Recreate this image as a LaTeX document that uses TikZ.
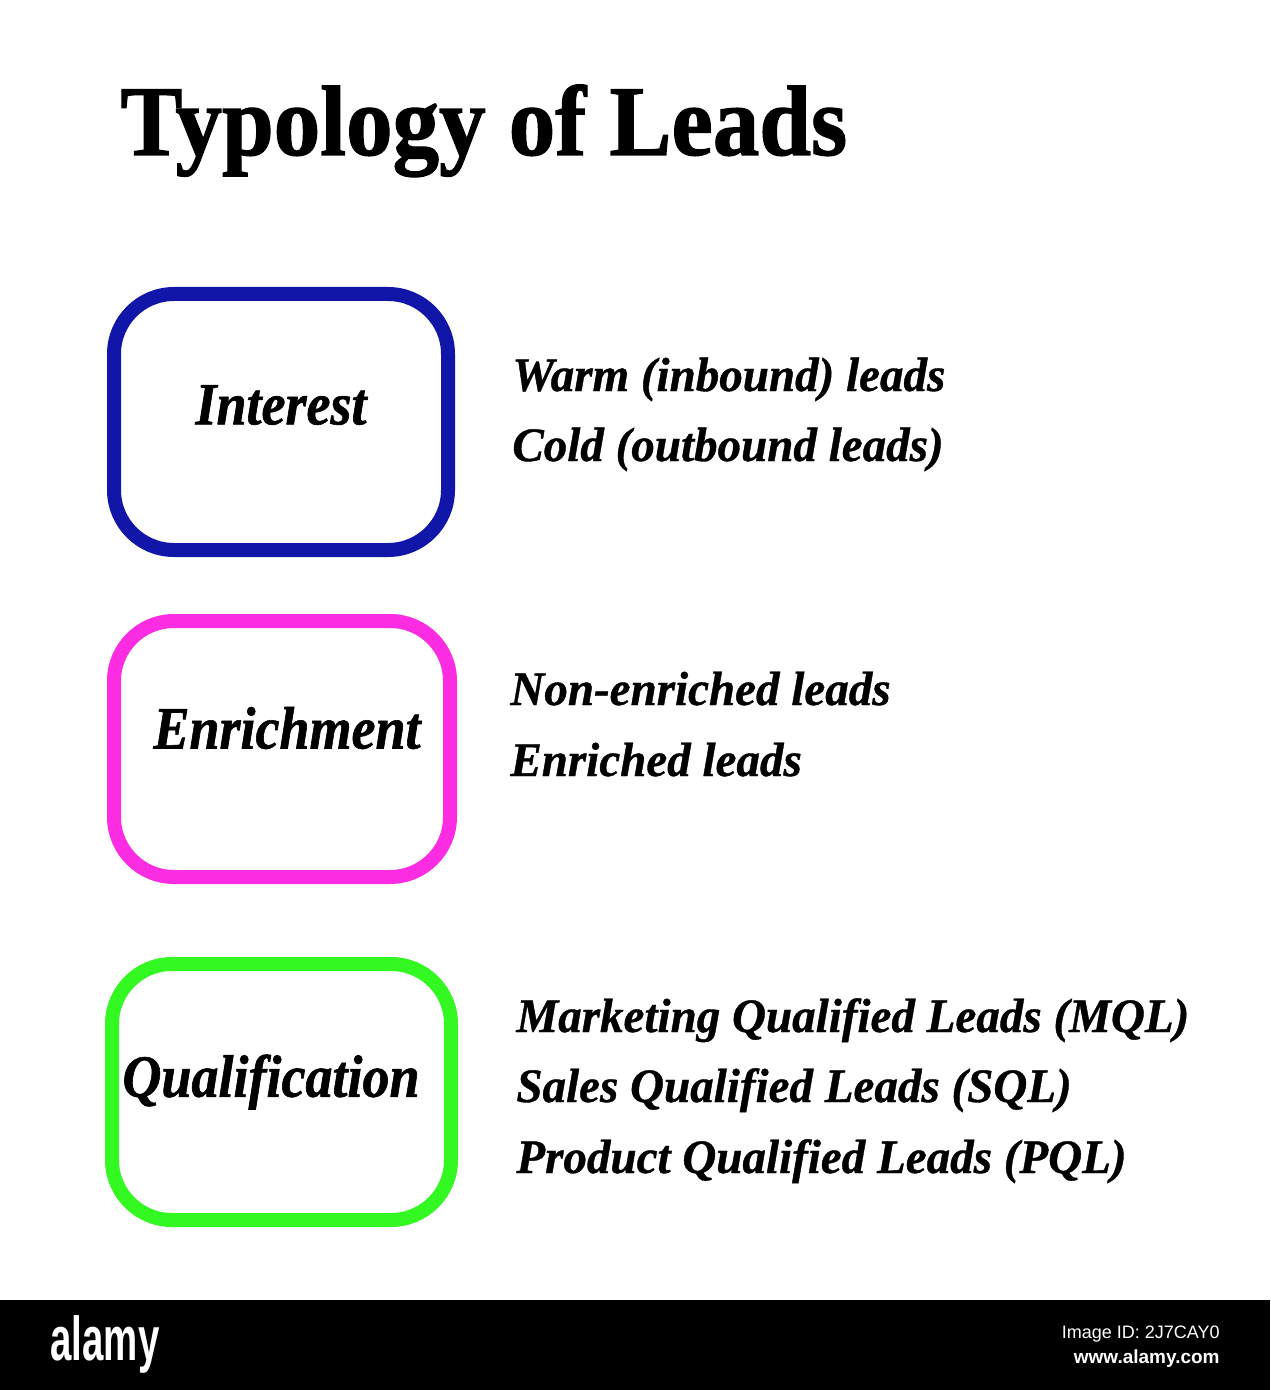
\documentclass[tikz,border=0pt]{standalone}
\usepackage{fontspec}
\setmainfont{Liberation Serif}
\newfontfamily\titlefont[FakeStretch=0.93,FakeBold=1.2]{Liberation Serif}
\newfontfamily\catfont[FakeStretch=0.90,FakeBold=1.0]{Liberation Serif}
\newfontfamily\itemfont[FakeStretch=0.98,FakeBold=0.8]{Liberation Serif}
\newfontfamily\barfont{Liberation Sans}
\newfontfamily\logofont[FakeStretch=0.62]{Liberation Sans}
\definecolor{cblue}{RGB}{18,22,168}
\definecolor{cmag}{RGB}{252,44,226}
\definecolor{cgreen}{RGB}{52,248,34}
\tikzset{
  catbox/.style={draw, line width=7pt, rounded corners=30pt},
  cattext/.style={font=\catfont\bfseries\itshape\fontsize{30}{36}\selectfont, inner sep=0pt},
  itemtext/.style={font=\itemfont\bfseries\itshape\fontsize{24}{29}\selectfont, anchor=base west, inner sep=0pt},
  titletext/.style={font=\titlefont\bfseries\fontsize{50}{60}\selectfont, anchor=base west, inner sep=0pt},
}
\begin{document}
\begin{tikzpicture}[x=0.5pt,y=-0.5pt]
\useasboundingbox (0,0) rectangle (1270,1390);
\fill[white] (0,0) rectangle (1270,1390);
\node[titletext] (title) at (120,155) {Typology of Leads};
% boxes
\draw[catbox, cblue] (114,294) rectangle (448,550);
\draw[catbox, cmag] (114,621) rectangle (450,877);
\draw[catbox, cgreen] (112,964) rectangle (451,1220);
\node[cattext] (interest) at (281,405) {Interest};
\node[cattext] (enrich) at (287,728) {Enrichment};
\node[cattext] (qual) at (271,1082) {Qualification};
% items
\node[itemtext] (w) at (512,391) {Warm (inbound) leads};
\node[itemtext] (c) at (512,461) {Cold (outbound leads)};
\node[itemtext] (n) at (510,705) {Non-enriched leads};
\node[itemtext] (e) at (510,776) {Enriched leads};
\node[itemtext] (m) at (516,1032) {Marketing Qualified Leads (MQL)};
\node[itemtext] (s) at (516,1102) {Sales Qualified Leads (SQL)};
\node[itemtext] (p) at (516,1173) {Product Qualified Leads (PQL)};
% bottom bar
\fill[black] (0,1300) rectangle (1270,1390);
\node[font=\logofont\bfseries\fontsize{31}{34}\selectfont, text=white, anchor=base west, inner sep=0pt] (logo) at (50,1360) {alamy};
\node[font=\barfont\fontsize{9}{11}\selectfont, text=white, anchor=base east, inner sep=0pt] (imgid) at (1220,1338) {Image ID: 2J7CAY0};
\node[font=\barfont\bfseries\fontsize{9.5}{11}\selectfont, text=white, anchor=base east, inner sep=0pt] (url) at (1220,1363) {www.alamy.com};
\end{tikzpicture}
\end{document}
